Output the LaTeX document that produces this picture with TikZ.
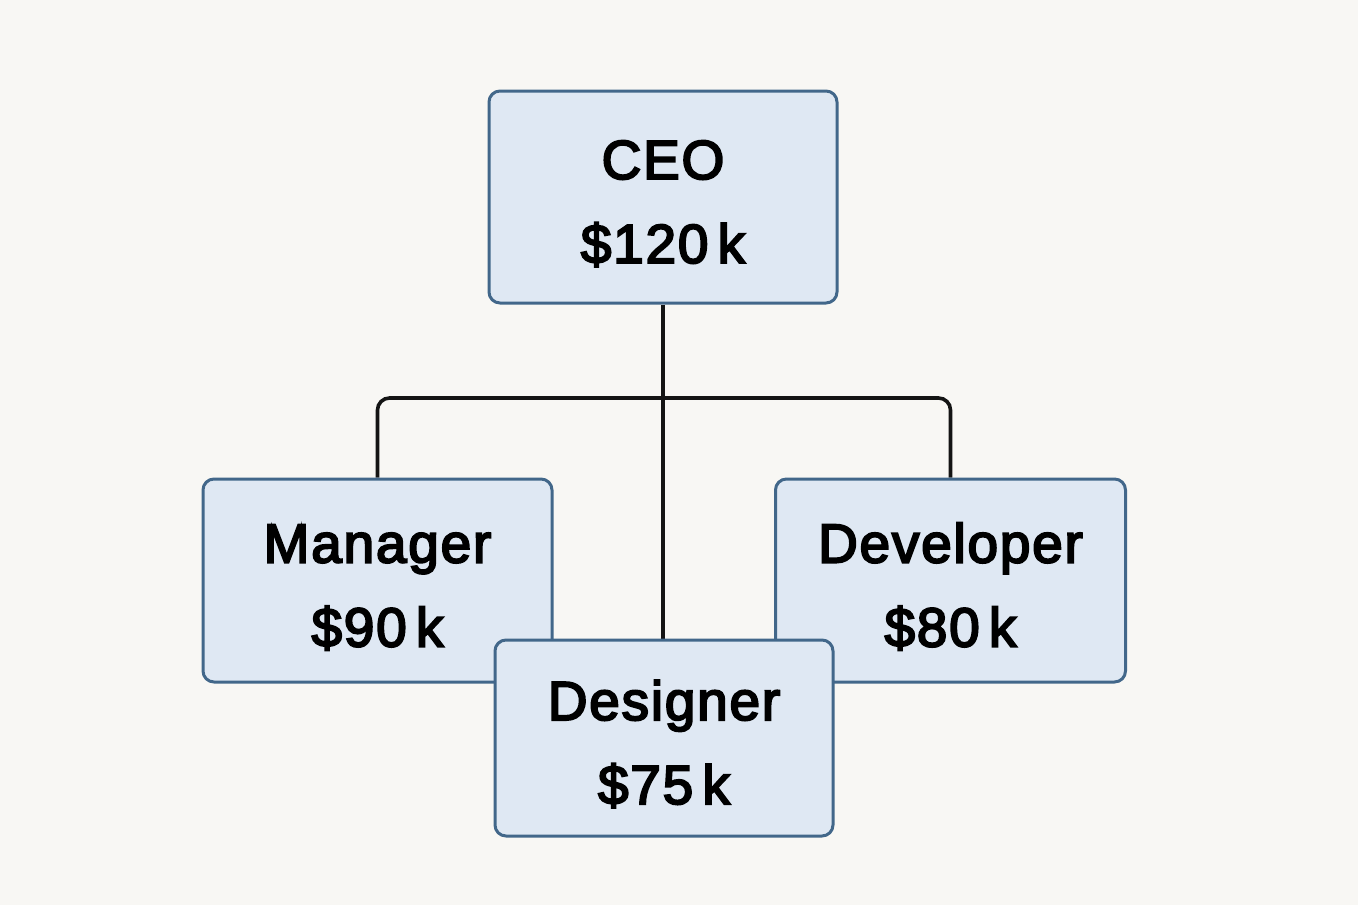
\documentclass[tikz,border=0pt]{standalone}
\usepackage{fontspec}
\setmainfont{Liberation Sans}
\newfontfamily\boxfont[FakeBold=3.6,LetterSpace=3.2]{Liberation Sans}
\definecolor{bg}{HTML}{F8F7F4}
\definecolor{boxfill}{HTML}{DFE8F3}
\definecolor{boxline}{HTML}{42678A}
\definecolor{wire}{HTML}{141414}
\pgfdeclarelayer{back}
\pgfdeclarelayer{wires}
\pgfsetlayers{back,wires,main}
\newcommand{\topstrut}{\rule{0pt}{59pt}}
\newcommand{\botstrut}{\rule[-11pt]{0pt}{11pt}}
\begin{document}
\begin{tikzpicture}[x=1pt,y=-1pt,
  orgbox/.style={draw=boxline, fill=boxfill, line width=3pt, rounded corners=11pt,
    inner sep=0pt, align=center, font=\fontsize{55}{84}\boxfont},
  wirestyle/.style={draw=wire, line width=3.6pt, rounded corners=12pt}]
\useasboundingbox (0,0) rectangle (1358,905);
\begin{pgfonlayer}{back}
\path[fill=bg] (0,0) rectangle (1358,905);
\end{pgfonlayer}
\coordinate (bar) at (663,398);
\node[orgbox, minimum width=349pt, minimum height=203pt] (mgr) at (377.5,580.5) {\topstrut Manager\\\$90\,k\botstrut};
\node[orgbox, minimum width=350pt, minimum height=203pt] (dev) at (950.5,580.5) {\topstrut Developer\\\$80\,k\botstrut};
\node[orgbox, minimum width=348pt, minimum height=212pt] (ceo) at (663,197) {\topstrut CEO\\\$120\,k\botstrut};
\node[orgbox, minimum width=338pt, minimum height=196pt] (des) at (664,738) {\topstrut Designer\\\$75\,k\botstrut};
\begin{pgfonlayer}{wires}
\draw[wirestyle] (ceo.south) -- (ceo.south |- des.north);
\draw[wirestyle] (mgr.north) -- (mgr.north |- bar) -- (dev.north |- bar) -- (dev.north);
\end{pgfonlayer}
\end{tikzpicture}
\end{document}
